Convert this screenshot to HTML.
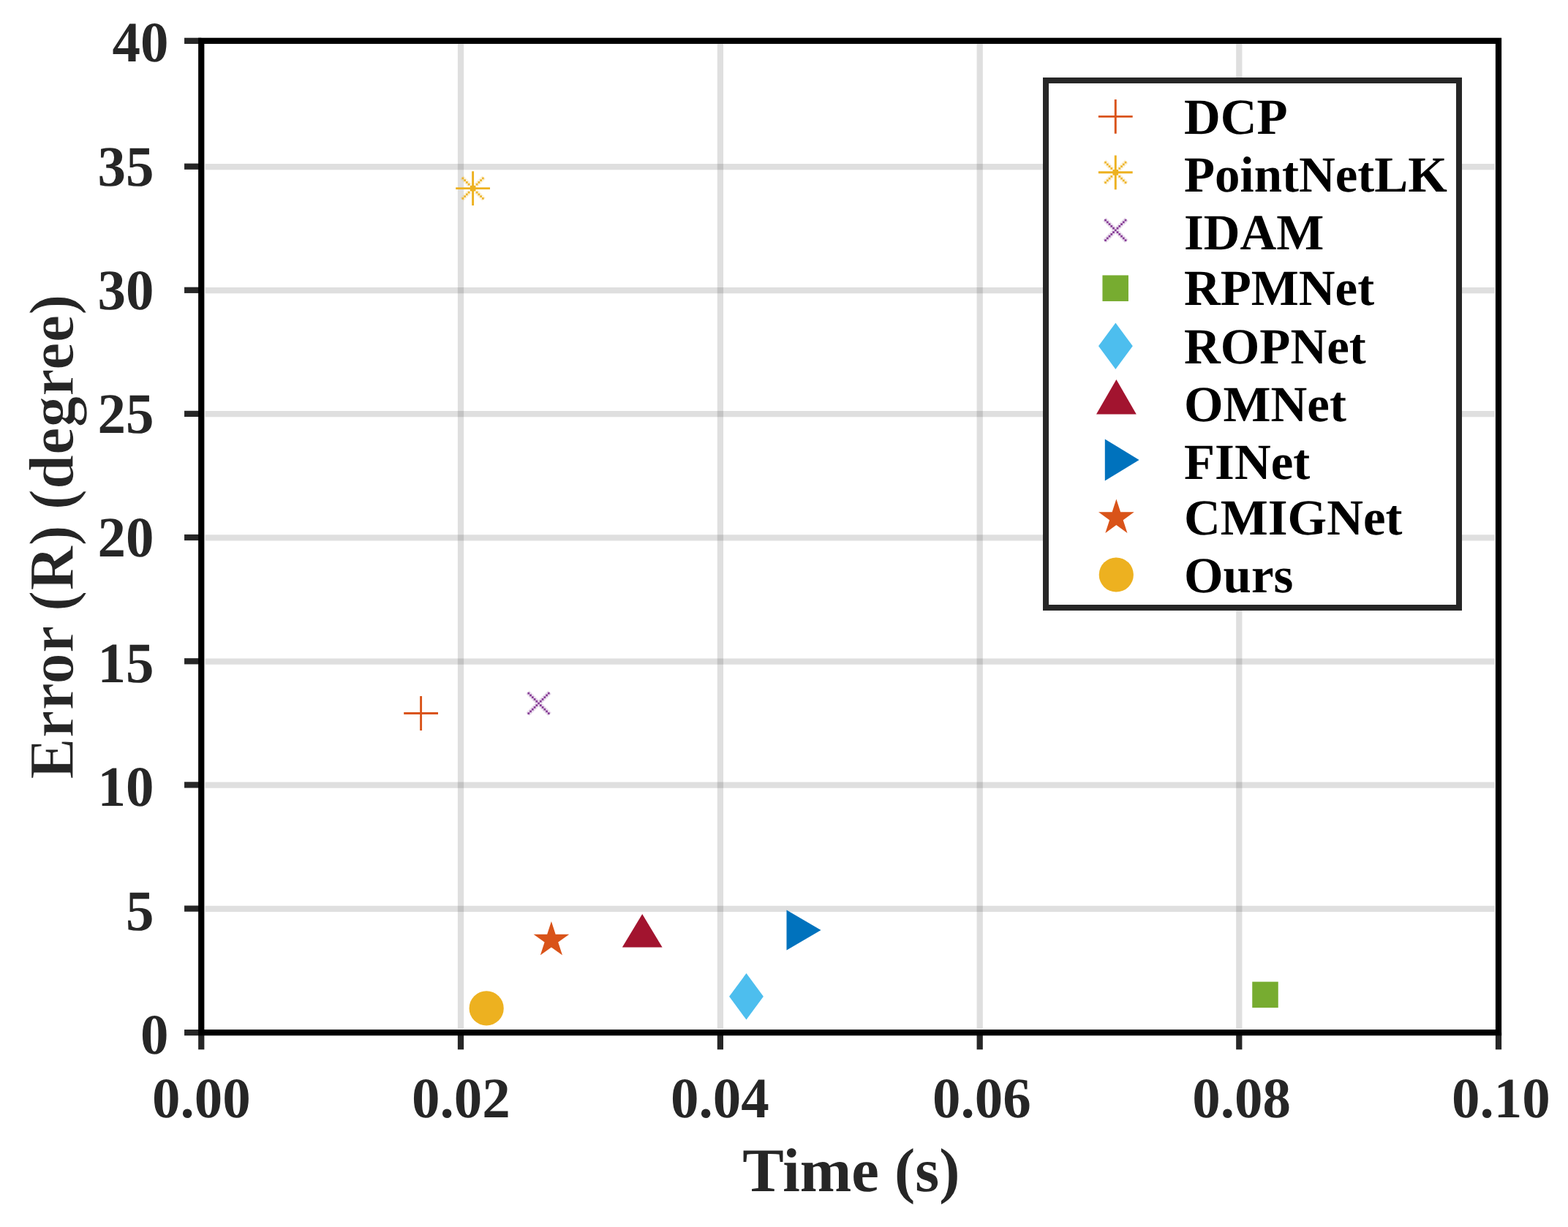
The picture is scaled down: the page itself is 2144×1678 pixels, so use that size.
<!DOCTYPE html>
<html lang="en"><head><meta charset="utf-8"><title>Error (R) vs Time</title>
<style>
html,body{margin:0;padding:0;background:#fff;}
body{width:2144px;height:1678px;overflow:hidden;}
svg{display:block;}
text{font-family:"Liberation Serif","Times New Roman",Times,serif;font-weight:bold;text-rendering:geometricPrecision;}
.tk{font-size:77px;fill:#262626;}
.lb{font-size:84.7px;fill:#262626;}
.lg{font-size:68.9px;fill:#000;}
.yl{stroke:#fff;stroke-width:1.2px;stroke-linejoin:round;}
</style></head><body>
<svg width="2144" height="1678" viewBox="0 0 2144 1678" role="img" aria-label="Scatter plot of rotation error versus time">
<rect x="0" y="0" width="2144" height="1678" fill="#fff"/>
<g stroke="#262626" stroke-opacity="0.15" stroke-width="8.25" fill="none">
<line x1="630" y1="59.98" x2="630" y2="1406.97"/>
<line x1="984.9" y1="59.98" x2="984.9" y2="1406.97"/>
<line x1="1339.7" y1="59.98" x2="1339.7" y2="1406.97"/>
<line x1="1694.3" y1="59.98" x2="1694.3" y2="1406.97"/>
<line x1="280.38" y1="1242.9" x2="2043.88" y2="1242.9"/>
<line x1="280.38" y1="1073.7" x2="2043.88" y2="1073.7"/>
<line x1="280.38" y1="904.6" x2="2043.88" y2="904.6"/>
<line x1="280.38" y1="735.3" x2="2043.88" y2="735.3"/>
<line x1="280.38" y1="566.2" x2="2043.88" y2="566.2"/>
<line x1="280.38" y1="397.1" x2="2043.88" y2="397.1"/>
<line x1="280.38" y1="228" x2="2043.88" y2="228"/>
</g>
<g stroke="#262626" stroke-width="8.25" fill="none">
<line x1="275.25" y1="1412.1" x2="275.25" y2="1435.3"/>
<line x1="630" y1="1412.1" x2="630" y2="1435.3"/>
<line x1="984.9" y1="1412.1" x2="984.9" y2="1435.3"/>
<line x1="1339.7" y1="1412.1" x2="1339.7" y2="1435.3"/>
<line x1="1694.3" y1="1412.1" x2="1694.3" y2="1435.3"/>
<line x1="2049" y1="1412.1" x2="2049" y2="1435.3"/>
<line x1="252.05" y1="1412.1" x2="275.25" y2="1412.1"/>
<line x1="252.05" y1="1242.6" x2="275.25" y2="1242.6"/>
<line x1="252.05" y1="1073.4" x2="275.25" y2="1073.4"/>
<line x1="252.05" y1="904.3" x2="275.25" y2="904.3"/>
<line x1="252.05" y1="735" x2="275.25" y2="735"/>
<line x1="252.05" y1="565.9" x2="275.25" y2="565.9"/>
<line x1="252.05" y1="396.8" x2="275.25" y2="396.8"/>
<line x1="252.05" y1="227.7" x2="275.25" y2="227.7"/>
<line x1="252.05" y1="55.85" x2="275.25" y2="55.85"/>
</g>
<rect x="275.25" y="55.85" width="1773.75" height="1356.25" fill="none" stroke="#000" stroke-width="8.25"/>
<g>
<path d="M552.2 975.5H599M575.6 952.1V998.9" stroke="#D95319" stroke-width="2.9" fill="none"/>
<path d="M650.73 261.73L661.73 272.73M650.73 253.48L661.73 242.48M642.48 253.48L631.48 242.48M642.48 261.73L631.48 272.73" stroke="#EDB120" stroke-opacity="0.16" stroke-width="6.32" fill="none"/><path d="M631.48 242.48h2.75v2.75h-2.75zM631.48 269.98h2.75v2.75h-2.75zM634.23 245.23h2.75v2.75h-2.75zM634.23 267.23h2.75v2.75h-2.75zM636.98 247.98h2.75v2.75h-2.75zM636.98 264.48h2.75v2.75h-2.75zM639.73 250.73h2.75v2.75h-2.75zM639.73 261.73h2.75v2.75h-2.75zM650.73 261.73h2.75v2.75h-2.75zM650.73 250.73h2.75v2.75h-2.75zM653.48 264.48h2.75v2.75h-2.75zM653.48 247.98h2.75v2.75h-2.75zM656.23 267.23h2.75v2.75h-2.75zM656.23 245.23h2.75v2.75h-2.75zM658.98 269.98h2.75v2.75h-2.75zM658.98 242.48h2.75v2.75h-2.75z" fill="#EDB120" fill-opacity="0.92"/><path d="M623.2 257.6H670M646.6 234.2V281" stroke="#EDB120" stroke-width="2.9" fill="none"/><rect x="642.75" y="253.75" width="7.7" height="7.7" fill="#EDB120"/>
<path d="M735.17 960.48L751.67 976.98M735.17 963.23L751.67 946.73M737.92 963.23L721.42 946.73M737.92 960.48L721.42 976.98" stroke="#7E2F8E" stroke-opacity="0.16" stroke-width="6.32" fill="none"/><path d="M721.42 946.73h2.75v2.75h-2.75zM721.42 974.23h2.75v2.75h-2.75zM724.17 949.48h2.75v2.75h-2.75zM724.17 971.48h2.75v2.75h-2.75zM726.92 952.23h2.75v2.75h-2.75zM726.92 968.73h2.75v2.75h-2.75zM729.67 954.98h2.75v2.75h-2.75zM729.67 965.98h2.75v2.75h-2.75zM732.42 957.73h2.75v2.75h-2.75zM732.42 963.23h2.75v2.75h-2.75zM735.17 960.48h2.75v2.75h-2.75zM735.17 960.48h2.75v2.75h-2.75zM737.92 963.23h2.75v2.75h-2.75zM737.92 957.73h2.75v2.75h-2.75zM740.67 965.98h2.75v2.75h-2.75zM740.67 954.98h2.75v2.75h-2.75zM743.42 968.73h2.75v2.75h-2.75zM743.42 952.23h2.75v2.75h-2.75zM746.17 971.48h2.75v2.75h-2.75zM746.17 949.48h2.75v2.75h-2.75zM748.92 974.23h2.75v2.75h-2.75zM748.92 946.73h2.75v2.75h-2.75z" fill="#7E2F8E" fill-opacity="0.92"/>
<rect x="1712.25" y="1342.6" width="35.5" height="35.5" fill="#77AC30"/>
<polygon points="1020.5,1331 1043.9,1362.8 1020.5,1394.6 997.1,1362.8" fill="#4DBEEE"/>
<polygon points="878.2,1250.1 905.6,1295.5 850.8,1295.5" fill="#A2142F"/>
<polygon points="1075.5,1244.4 1122.5,1271.9 1075.5,1299.4" fill="#0072BD"/>
<polygon points="753.9,1260 759.65,1277.69 778.25,1277.69 763.2,1288.62 768.95,1306.31 753.9,1295.38 738.85,1306.31 744.6,1288.62 729.55,1277.69 748.15,1277.69" fill="#D95319"/>
<circle cx="665.15" cy="1378.9" r="23.6" fill="#EDB120"/>
</g>
<rect x="1430" y="110" width="565" height="721" fill="#fff" stroke="#262626" stroke-width="8"/>
<g>
<path d="M1501.9 159.4H1548.7M1525.3 136V182.8" stroke="#D95319" stroke-width="2.9" fill="none"/>
<path d="M1529.42 239.93L1540.42 250.93M1529.42 231.68L1540.42 220.68M1521.17 231.68L1510.17 220.68M1521.17 239.93L1510.17 250.93" stroke="#EDB120" stroke-opacity="0.16" stroke-width="6.32" fill="none"/><path d="M1510.17 220.68h2.75v2.75h-2.75zM1510.17 248.18h2.75v2.75h-2.75zM1512.92 223.43h2.75v2.75h-2.75zM1512.92 245.43h2.75v2.75h-2.75zM1515.67 226.18h2.75v2.75h-2.75zM1515.67 242.68h2.75v2.75h-2.75zM1518.42 228.93h2.75v2.75h-2.75zM1518.42 239.93h2.75v2.75h-2.75zM1529.42 239.93h2.75v2.75h-2.75zM1529.42 228.93h2.75v2.75h-2.75zM1532.17 242.68h2.75v2.75h-2.75zM1532.17 226.18h2.75v2.75h-2.75zM1534.92 245.43h2.75v2.75h-2.75zM1534.92 223.43h2.75v2.75h-2.75zM1537.67 248.18h2.75v2.75h-2.75zM1537.67 220.68h2.75v2.75h-2.75z" fill="#EDB120" fill-opacity="0.92"/><path d="M1501.9 235.8H1548.7M1525.3 212.4V259.2" stroke="#EDB120" stroke-width="2.9" fill="none"/><rect x="1521.45" y="231.95" width="7.7" height="7.7" fill="#EDB120"/>
<path d="M1523.92 313.52L1540.42 330.02M1523.92 316.27L1540.42 299.77M1526.67 316.27L1510.17 299.77M1526.67 313.52L1510.17 330.02" stroke="#7E2F8E" stroke-opacity="0.16" stroke-width="6.32" fill="none"/><path d="M1510.17 299.77h2.75v2.75h-2.75zM1510.17 327.27h2.75v2.75h-2.75zM1512.92 302.52h2.75v2.75h-2.75zM1512.92 324.52h2.75v2.75h-2.75zM1515.67 305.27h2.75v2.75h-2.75zM1515.67 321.77h2.75v2.75h-2.75zM1518.42 308.02h2.75v2.75h-2.75zM1518.42 319.02h2.75v2.75h-2.75zM1521.17 310.77h2.75v2.75h-2.75zM1521.17 316.27h2.75v2.75h-2.75zM1523.92 313.52h2.75v2.75h-2.75zM1523.92 313.52h2.75v2.75h-2.75zM1526.67 316.27h2.75v2.75h-2.75zM1526.67 310.77h2.75v2.75h-2.75zM1529.42 319.02h2.75v2.75h-2.75zM1529.42 308.02h2.75v2.75h-2.75zM1532.17 321.77h2.75v2.75h-2.75zM1532.17 305.27h2.75v2.75h-2.75zM1534.92 324.52h2.75v2.75h-2.75zM1534.92 302.52h2.75v2.75h-2.75zM1537.67 327.27h2.75v2.75h-2.75zM1537.67 299.77h2.75v2.75h-2.75z" fill="#7E2F8E" fill-opacity="0.92"/>
<rect x="1507.45" y="376.45" width="35.5" height="35.5" fill="#77AC30"/>
<polygon points="1525.4,441.5 1548.8,473.3 1525.4,505.1 1502,473.3" fill="#4DBEEE"/>
<polygon points="1526.4,519 1553.8,566.4 1499,566.4" fill="#A2142F"/>
<polygon points="1510.8,600.4 1557.6,629 1510.8,657.6" fill="#0072BD"/>
<polygon points="1526.4,682.6 1532.15,700.29 1550.75,700.29 1535.7,711.22 1541.45,728.91 1526.4,717.98 1511.35,728.91 1517.1,711.22 1502.05,700.29 1520.65,700.29" fill="#D95319"/>
<circle cx="1526.3" cy="786" r="23.6" fill="#EDB120"/>
</g>
<g class="lg">
<text transform="translate(1619 182.6) scale(1 1.005)">DCP</text>
<text transform="translate(1619 261.75) scale(1 1.005)">PointNetLK</text>
<text transform="translate(1619 340.8) scale(1 1.005)">IDAM</text>
<text transform="translate(1619 417.2) scale(1 1.005)">RPMNet</text>
<text transform="translate(1619 496.55) scale(1 1.005)">ROPNet</text>
<text transform="translate(1619 575.6) scale(1 1.005)">OMNet</text>
<text transform="translate(1619 654.85) scale(1 1.005)">FINet</text>
<text transform="translate(1619 731.2) scale(1 1.005)">CMIGNet</text>
<text transform="translate(1619 810.45) scale(1 1.005)">Ours</text>
</g>
<g class="tk" text-anchor="end">
<text transform="translate(230.5 1440.85) scale(1 1.016)">0</text>
<text transform="translate(210.5 1271.6) scale(1 1.016)">5</text>
<text transform="translate(210.5 1102.2) scale(1 1.016)">10</text>
<text transform="translate(210.5 933) scale(1 1.016)">15</text>
<text transform="translate(210.5 760.85) scale(1 1.016)">20</text>
<text transform="translate(210.5 591.85) scale(1 1.016)">25</text>
<text transform="translate(210.5 422.75) scale(1 1.016)">30</text>
<text transform="translate(210.5 253.7) scale(1 1.016)">35</text>
<text transform="translate(230.5 84.05) scale(1 1.016)">40</text>
</g>
<g class="tk" text-anchor="middle">
<text transform="translate(275.25 1527.9) scale(1 1.016)">0.00</text>
<text transform="translate(630.3 1527.9) scale(1 1.016)">0.02</text>
<text transform="translate(984.4 1527.9) scale(1 1.016)">0.04</text>
<text transform="translate(1342.4 1527.9) scale(1 1.016)">0.06</text>
<text transform="translate(1697.5 1527.9) scale(1 1.016)">0.08</text>
<text transform="translate(2052.3 1527.9) scale(1 1.016)">0.10</text>
</g>
<text class="lb" text-anchor="middle" transform="translate(1163.8 1628.8) scale(1 1.0)">Time (s)</text>
<text class="lb yl" text-anchor="middle" transform="translate(99.8 734.1) rotate(-90) scale(1 1.035)">Error (R) (degree)</text>
</svg>
</body></html>
